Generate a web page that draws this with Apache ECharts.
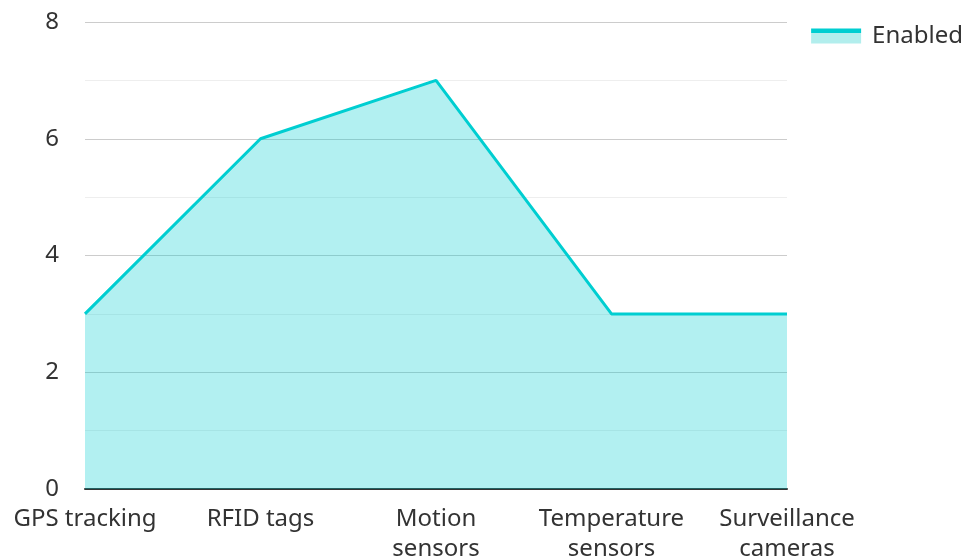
<!DOCTYPE html>
<html>
<head>
<meta charset="utf-8">
<script src="https://cdn.jsdelivr.net/npm/echarts@6/dist/echarts.min.js"></script>
<style>
  html, body { margin: 0; padding: 0; background: #fff; }
  #chart { width: 968px; height: 560px; }
</style>
</head>
<body>
<div id="chart"></div>
<script>
const categories = ['GPS tracking', 'RFID tags', 'Motion\nsensors', 'Temperature\nsensors', 'Surveillance\ncameras'];
const enabledValues = [3, 6, 7, 3, 3];
const seriesName = 'Enabled';

const lineColor = '#00CED1';
const areaColor = '#B2EEED';

const chart = echarts.init(document.getElementById('chart'));

chart.setOption({
  backgroundColor: '#ffffff',
  textStyle: { fontFamily: 'Noto Sans' },
  grid: { left: 85, right: 181, top: 22, bottom: 71, containLabel: false, outerBoundsMode: 'none' },
  legend: {
    right: 0,
    top: 19,
    itemWidth: 50,
    itemHeight: 15,
    icon: 'rect',
    itemStyle: {
      color: new echarts.graphic.LinearGradient(0, 0, 0, 1, [
        { offset: 0, color: lineColor },
        { offset: 0.27, color: lineColor },
        { offset: 0.27, color: areaColor },
        { offset: 1, color: areaColor }
      ]),
      borderWidth: 0
    },
    textStyle: { fontSize: 24, color: '#333', padding: [0, 0, 10, 6] },
    data: [seriesName]
  },
  xAxis: {
    type: 'category',
    boundaryGap: false,
    data: categories,
    axisLine: { lineStyle: { color: '#333', width: 2 } },
    axisTick: { show: false },
    axisLabel: { fontSize: 24, color: '#333', margin: 15, lineHeight: 30, interval: 0 }
  },
  yAxis: {
    type: 'value',
    min: 0,
    max: 8,
    interval: 2,
    axisLine: { show: false },
    axisTick: { show: false },
    axisLabel: { fontSize: 24, color: '#333', margin: 26 },
    splitLine: { lineStyle: { color: '#ccc', width: 1 } },
    minorTick: { show: false, splitNumber: 2 },
    minorSplitLine: { show: true, lineStyle: { color: '#eee', width: 1 } }
  },
  series: [{
    name: seriesName,
    type: 'line',
    data: enabledValues,
    symbol: 'none',
    lineStyle: { color: lineColor, width: 3 },
    itemStyle: { color: lineColor },
    areaStyle: { color: lineColor, opacity: 0.3 }
  }]
});
</script>
</body>
</html>
